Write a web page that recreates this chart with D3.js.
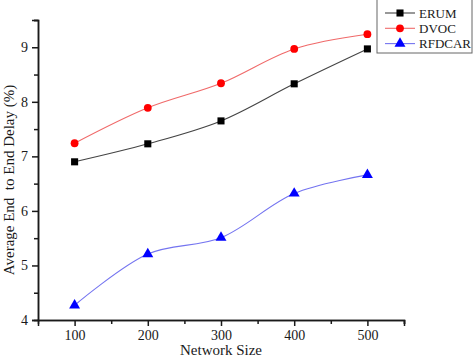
<!DOCTYPE html>
<html>
<head>
<meta charset="utf-8">
<script src="https://cdn.jsdelivr.net/npm/d3@7"></script>
<style>
  body { margin: 0; background: #fff; }
  svg { display: block; }
  text { font-family: "Liberation Serif", "Times New Roman", serif; fill: #1a1a1a; }
</style>
</head>
<body>
<svg id="chart" width="474" height="357"></svg>
<script>
const networkSizes = [100, 200, 300, 400, 500];
const erum = [6.90, 7.23, 7.65, 8.33, 8.97];
const dvoc = [7.24, 7.89, 8.34, 8.97, 9.24];
const rfdcar = [4.27, 5.21, 5.51, 6.32, 6.66];
const xTicks = [100, 200, 300, 400, 500];
const yTicks = [4, 5, 6, 7, 8, 9];
const seriesNames = ["ERUM", "DVOC", "RFDCAR"];

const series = [
  { name: seriesNames[0], values: erum, line: "#444", fill: "#000", shape: d3.symbolSquare, size: 50 },
  { name: seriesNames[1], values: dvoc, line: "#f06a6a", fill: "#ff0000", shape: d3.symbolCircle, size: 48 },
  { name: seriesNames[2], values: rfdcar, line: "#7474f0", fill: "#0000ff", shape: d3.symbolTriangle, size: 52 }
];

const svg = d3.select("#chart");

const x = d3.scaleLinear().domain([50, 550]).range([38, 404]);
const y = d3.scaleLinear().domain([4, 9.5]).range([320, 20]);

const xAxis = d3.axisBottom(x).tickValues(xTicks).tickSize(6).tickPadding(4).tickFormat(d3.format("d"));
const xMinor = d3.axisBottom(x).tickValues([150, 250, 350, 450, 550]).tickSize(4).tickFormat("");
const yAxis = d3.axisLeft(y).tickValues(yTicks).tickSize(6).tickPadding(4).tickFormat(d3.format("d"));
const yMinor = d3.axisLeft(y).tickValues([4.5, 5.5, 6.5, 7.5, 8.5, 9.5]).tickSize(4).tickFormat("");

function styleAxis(g) {
  g.selectAll("path, line").attr("stroke", "#1a1a1a").attr("stroke-width", 1.5);
  g.selectAll("text").style("font-size", "14px").style("font-family", '"Liberation Serif", serif').attr("fill", "#1a1a1a");
}

svg.append("g").attr("transform", "translate(0,320)").call(xMinor).call(styleAxis);
svg.append("g").attr("transform", "translate(0,320)").call(xAxis).call(styleAxis);
svg.append("g").attr("transform", "translate(38,0)").call(yMinor).call(styleAxis);
svg.append("g").attr("transform", "translate(38,0)").call(yAxis).call(styleAxis);

const line = d3.line()
  .x((d, i) => x(networkSizes[i]))
  .y(d => y(d))
  .curve(d3.curveCatmullRom.alpha(0.5));

series.forEach(s => {
  svg.append("path")
    .attr("d", line(s.values))
    .attr("fill", "none")
    .attr("stroke", s.line)
    .attr("stroke-width", 1.1);
});

series.forEach(s => {
  svg.selectAll(null)
    .data(s.values)
    .enter()
    .append("path")
    .attr("d", d3.symbol().type(s.shape).size(s.size))
    .attr("transform", (d, i) => `translate(${x(networkSizes[i])},${y(d)})`)
    .attr("fill", s.fill);
});

svg.append("text")
  .attr("x", 221).attr("y", 355)
  .attr("text-anchor", "middle")
  .style("font-size", "15px")
  .text("Network Size");

svg.append("text")
  .attr("transform", "translate(14,180) rotate(-90)")
  .attr("text-anchor", "middle")
  .style("font-size", "15px")
  .style("white-space", "pre")
  .text("Average End  to End Delay (%)");

const lg = svg.append("g");
lg.append("rect")
  .attr("x", 377).attr("y", -1).attr("width", 95).attr("height", 54)
  .attr("fill", "#fff").attr("stroke", "#666").attr("stroke-width", 1);
series.forEach((s, i) => {
  const cy = 13 + i * 15.3;
  lg.append("line").attr("x1", 385).attr("x2", 415).attr("y1", cy).attr("y2", cy)
    .attr("stroke", s.line).attr("stroke-width", 1.1);
  lg.append("path")
    .attr("d", d3.symbol().type(s.shape).size(s.size))
    .attr("transform", `translate(400,${cy})`)
    .attr("fill", s.fill);
  lg.append("text").attr("x", 419).attr("y", cy + 4.5)
    .style("font-size", "13px")
    .text(s.name);
});
</script>
</body>
</html>
